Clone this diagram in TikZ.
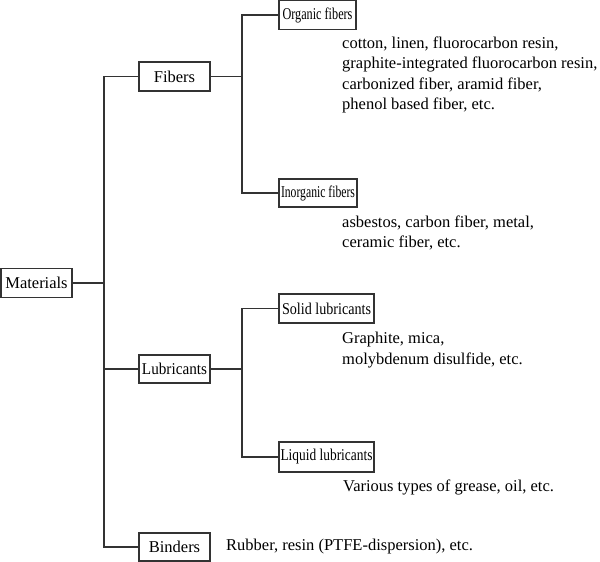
\documentclass[tikz,border=0pt]{standalone}
\usepackage{fontspec}
\setmainfont{Liberation Serif}
\usepackage{graphicx}
\newcommand{\cond}[2]{\resizebox{#1}{\height}{#2}}
\begin{document}
\begin{tikzpicture}[x=1pt,y=-1pt,
  every node/.style={font=\fontsize{16.5}{20.5}\selectfont, text=black},
  box/.style={draw=black!80, line width=1.3pt, inner sep=0pt, fill=white},
  conn/.style={draw=black!80, line width=1.3pt},
  desc/.style={anchor=west, align=left, inner sep=0pt}]
\useasboundingbox (0,0) rectangle (600,562);
% level 0
\node[box, minimum width=71pt, minimum height=29pt] (mat) at (36.5,283) {Materials};
% level 1
\node[box, minimum width=71pt, minimum height=29pt] (fib) at (174.5,76.5) {Fibers};
\node[box, minimum width=71pt, minimum height=28pt] (lub) at (174.5,369) {\cond{65pt}{Lubricants}};
\node[box, minimum width=71pt, minimum height=28pt] (bin) at (174.5,547) {Binders};
% level 2
\node[box, minimum width=77pt, minimum height=28.5pt] (org) at (317.5,15) {\cond{70pt}{Organic fibers}};
\node[box, minimum width=78pt, minimum height=28pt] (ino) at (318,193) {\cond{74pt}{Inorganic fibers}};
\node[box, minimum width=95pt, minimum height=29pt] (sol) at (326.5,308.5) {\cond{89pt}{Solid lubricants}};
\node[box, minimum width=95pt, minimum height=30pt] (liq) at (326.5,457) {\cond{92pt}{Liquid lubricants}};
% junctions
\coordinate (j0) at (104,283);
\coordinate (j1) at (242,76.5);
\coordinate (j2) at (242,369);
% connectors
\draw[conn] (mat.east) -- (j0);
\draw[conn] (fib.west) -| (j0);
\draw[conn] (bin.west) -| (j0);
\draw[conn] (lub.west) -- (lub.west -| j0);
\draw[conn] (fib.east) -- (j1);
\draw[conn] (org.west) -| (j1);
\draw[conn] (ino.west) -| (j1);
\draw[conn] (lub.east) -- (j2);
\draw[conn] (sol.west) -| (j2);
\draw[conn] (liq.west) -| (j2);
% descriptions
\node[desc] (dorg) at (342,75) {cotton, linen, fluorocarbon resin,\\graphite-integrated fluorocarbon resin,\\carbonized fiber, aramid fiber,\\phenol based fiber, etc.};
\node[desc] (dino) at (342,233) {asbestos, carbon fiber, metal,\\ceramic fiber, etc.};
\node[desc] (dsol) at (342,350) {Graphite, mica,\\molybdenum disulfide, etc.};
\node[desc] (dliq) at (343,487) {Various types of grease, oil, etc.};
\node[desc] (dbin) at (226,547) {Rubber, resin (PTFE-dispersion), etc.};
\end{tikzpicture}
\end{document}
